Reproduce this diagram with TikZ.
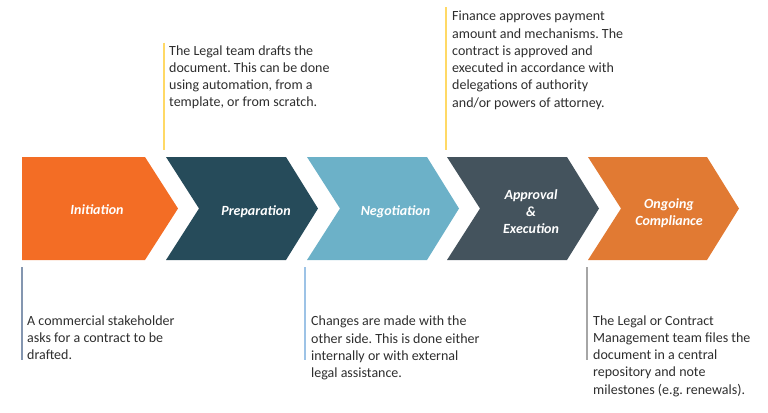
\documentclass[tikz,border=0pt]{standalone}
\usepackage{fontspec}
\setmainfont{Carlito}
\frenchspacing
\definecolor{cOrangeA}{HTML}{F36D25}
\definecolor{cTeal}{HTML}{264B5A}
\definecolor{cLightBlue}{HTML}{6CB1C8}
\definecolor{cSlate}{HTML}{44535D}
\definecolor{cOrangeB}{HTML}{E17A33}
\definecolor{cYellow}{HTML}{FFD966}
\definecolor{cGrayBlue}{HTML}{8496B0}
\definecolor{cPaleBlue}{HTML}{9DC3E6}
\definecolor{cGray}{HTML}{A6A6A6}
\definecolor{cText}{HTML}{2E2E2E}
\newcommand{\leftlines}[1]{\begin{tabular}[t]{@{}l@{}}#1\end{tabular}}
\newcommand{\midlines}[1]{\begin{tabular}[t]{@{}c@{}}#1\end{tabular}}
\begin{document}
\begin{tikzpicture}[x=1bp,y=-1bp,
  desc/.style={anchor=base west, inner sep=0pt, text=cText,
    font=\fontsize{14bp}{17.3bp}\selectfont\frenchspacing},
  lbl/.style={anchor=base, inner sep=0pt, text=white,
    font=\fontsize{14bp}{17bp}\selectfont\bfseries\itshape},
  rule/.style={line width=1.5bp}]
\useasboundingbox (0,0) rectangle (768,412);
% chevrons
\fill[cOrangeA] (22,157) -- (145,157) -- (178,208.5) -- (145,260) -- (22,260) -- cycle;
\fill[cTeal] (166,157) -- (286,157) -- (318,208.5) -- (286,260) -- (166,260) -- (199,208.5) -- cycle;
\fill[cLightBlue] (307,157) -- (427,157) -- (459,208.5) -- (427,260) -- (307,260) -- (340,208.5) -- cycle;
\fill[cSlate] (447,157) -- (567,157) -- (599,208.5) -- (567,260) -- (447,260) -- (480,208.5) -- cycle;
\fill[cOrangeB] (588,157) -- (707,157) -- (739,208.5) -- (707,260) -- (588,260) -- (621,208.5) -- cycle;
% chevron labels
\node[lbl] (l1) at (97,214.5) {Initiation};
\node[lbl] (l2) at (256,215) {Preparation};
\node[lbl] (l3) at (395.5,215) {Negotiation};
\node[lbl] (l4) at (531,199.3) {\midlines{Approval\\\&\\Execution}};
\node[lbl] (l5) at (669,208.3) {\midlines{Ongoing\\Compliance}};
% rules
\coordinate (t1a) at (164,42.7); \coordinate (t1b) at (164,150);
\coordinate (t2a) at (446,7); \coordinate (t2b) at (446,150);
\coordinate (b1a) at (22,267); \coordinate (b1b) at (22,360);
\coordinate (b3a) at (305,267); \coordinate (b3b) at (305,360);
\coordinate (b5a) at (587,267); \coordinate (b5b) at (587,360);
\draw[rule, cYellow] (t1a) -- (t1b);
\draw[rule, cYellow] (t2a) -- (t2b);
\draw[rule, cGrayBlue] (b1a) -- (b1b);
\draw[rule, cPaleBlue] (b3a) -- (b3b);
\draw[rule, cGray] (b5a) -- (b5b);
% descriptions
\node[desc] (d2) at (169,55) {\leftlines{The Legal team drafts the\\document. This can be done\\using automation, from a\\template, or from scratch.}};
\node[desc] (d4) at (452,20.7) {\leftlines{Finance approves payment\\amount and mechanisms. The\\contract is approved and\\executed in accordance with\\delegations of authority\\and/or powers of attorney.}};
\node[desc] (d1) at (27,325) {\leftlines{A commercial stakeholder\\asks for a contract to be\\drafted.}};
\node[desc] (d3) at (311,325.7) {\leftlines{Changes are made with the\\other side. This is done either\\internally or with external\\legal assistance.}};
\node[desc] (d5) at (593,325) {\leftlines{The Legal or Contract\\Management team files the\\document in a central\\repository and note\\milestones (e.g. renewals).}};
\end{tikzpicture}
\end{document}
